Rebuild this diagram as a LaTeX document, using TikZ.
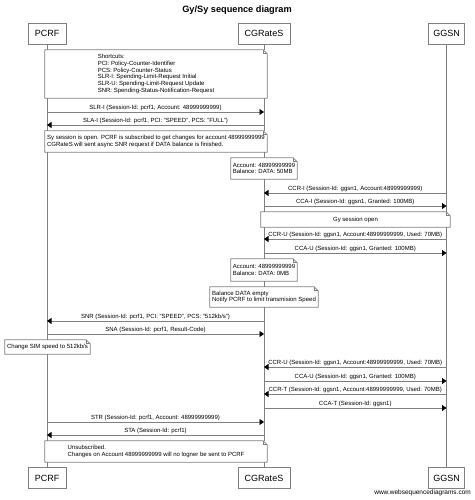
\documentclass[tikz,border=0pt]{standalone}
\usepackage{fontspec}
\setmainfont{Liberation Sans}
\usetikzlibrary{arrows.meta}
\definecolor{seqline}{gray}{0.5}

\begin{document}
\begin{tikzpicture}[x=1pt,y=-1pt,
  >={Triangle[length=4.5pt,width=6pt,color=black,fill=black]},
  line/.style={draw=seqline,line width=0.8pt},
  actor/.style={line,fill=white,minimum height=21pt,inner sep=2pt,font=\fontsize{9}{10}\selectfont},
  msg/.style={line,->},
  lbl/.style={above,inner sep=1pt,font=\fontsize{6}{7}\selectfont},
  note/.style={fill=white,align=left,inner sep=1pt,font=\fontsize{6}{6.8}\selectfont}]
\useasboundingbox (0,0) rectangle (474,500);
% ---- title ----
\node[font=\bfseries\fontsize{9.2}{11}\selectfont] (title) at (237,10) {Gy/Sy sequence diagram};
% ---- participants and lifelines ----
\foreach \n/\x/\w/\t in {pcrf/47/38/PCRF,cgr/264/52/CGRateS,ggsn/446.5/36/GGSN}{
  \node[actor,minimum width=\w pt] (\n) at (\x,33.5) {\t};
  \node[actor,minimum width=\w pt] (\n-b) at (\x,478) {\t};
  \draw[line] (\n.south) -- (\n-b.north);}
% ---- messages ----
\foreach \y/\a/\b/\t in {
  112/pcrf/cgr/{SLR-I (Session-Id: pcrf1, Account: 48999999999)},
  125/cgr/pcrf/{SLA-I (Session-Id: pcrf1, PCI: "SPEED", PCS: "FULL")},
  193/ggsn/cgr/{CCR-I (Session-Id: ggsn1, Account:48999999999)},
  206/cgr/ggsn/{CCA-I (Session-Id: ggsn1, Granted: 100MB)},
  239/ggsn/cgr/{CCR-U (Session-Id: ggsn1, Account:48999999999, Used: 70MB)},
  253/cgr/ggsn/{CCA-U (Session-Id: ggsn1, Granted: 100MB)},
  321/cgr/pcrf/{SNR (Session-Id: pcrf1, PCI: "SPEED", PCS: "512kb/s")},
  334/pcrf/cgr/{SNA (Session-Id: pcrf1, Result-Code)},
  367/ggsn/cgr/{CCR-U (Session-Id: ggsn1, Account:48999999999, Used: 70MB)},
  381/cgr/ggsn/{CCA-U (Session-Id: ggsn1, Granted: 100MB)},
  394/ggsn/cgr/{CCR-T (Session-Id: ggsn1, Account:48999999999, Used: 70MB)},
  408/cgr/ggsn/{CCA-T (Session-Id: ggsn1)},
  422/pcrf/cgr/{STR (Session-Id: pcrf1, Account: 48999999999)},
  435/cgr/pcrf/{STA (Session-Id: pcrf1)}}{
  \draw[msg] (\a |- 0,\y) -- node[lbl] {\t} (\b |- 0,\y);}
% ---- notes ----
\node[note,minimum width=222pt,minimum height=48pt] (shortcuts) at (156,74)
  {Shortcuts:\\PCI: Policy-Counter-Identifier\\PCS: Policy-Counter-Status\\SLR-I: Spending-Limit-Request Initial\\SLR-U: Spending-Limit-Request Update\\SNR: Spending-Status-Notification-Request};
\node[note,minimum width=222pt,minimum height=21pt] (syopen) at (156,141.5)
  {Sy session is open. PCRF is subscribed to get changes for account 48999999999\\CGRateS will sent async SNR request if DATA balance is finished.};
\node[note,minimum width=66pt,minimum height=21pt] (bal50) at (264,168.5)
  {Account: 48999999999\\Balance: DATA: 50MB};
\node[note,align=center,minimum width=189pt,minimum height=15pt] (gyopen) at (355.5,219.5)
  {Gy session open};
\node[note,minimum width=66pt,minimum height=22pt] (bal0) at (264,270)
  {Account: 48999999999\\Balance: DATA: 0MB};
\node[note,minimum width=108pt,minimum height=20pt] (empty) at (264,297)
  {Balance DATA empty\\Notify PCRF to limit transmision Speed};
\node[note,minimum width=85pt,minimum height=14pt] (sim) at (47.5,347)
  {Change SIM speed to 512kb/s};
\node[note,minimum width=222pt,minimum height=21pt] (unsub) at (156,451.5)
  {Unsubscribed.\\Changes on Account 48999999999 will no logner be sent to PCRF};
\foreach \n in {shortcuts,syopen,bal50,gyopen,bal0,empty,sim,unsub}{
  \draw[line] (\n.south west) -- (\n.north west) -- ([xshift=-4pt]\n.north east)
    -- ([yshift=-4pt]\n.north east) -- (\n.south east) -- cycle;
  \draw[line] ([xshift=-4pt]\n.north east) -- ([xshift=-4pt,yshift=-4pt]\n.north east)
    -- ([yshift=-4pt]\n.north east);}
% ---- footer ----
\node[anchor=east,inner sep=0pt,font=\fontsize{6.5}{7}\selectfont] (site) at (471,493) {www.websequencediagrams.com};
\end{tikzpicture}
\end{document}
